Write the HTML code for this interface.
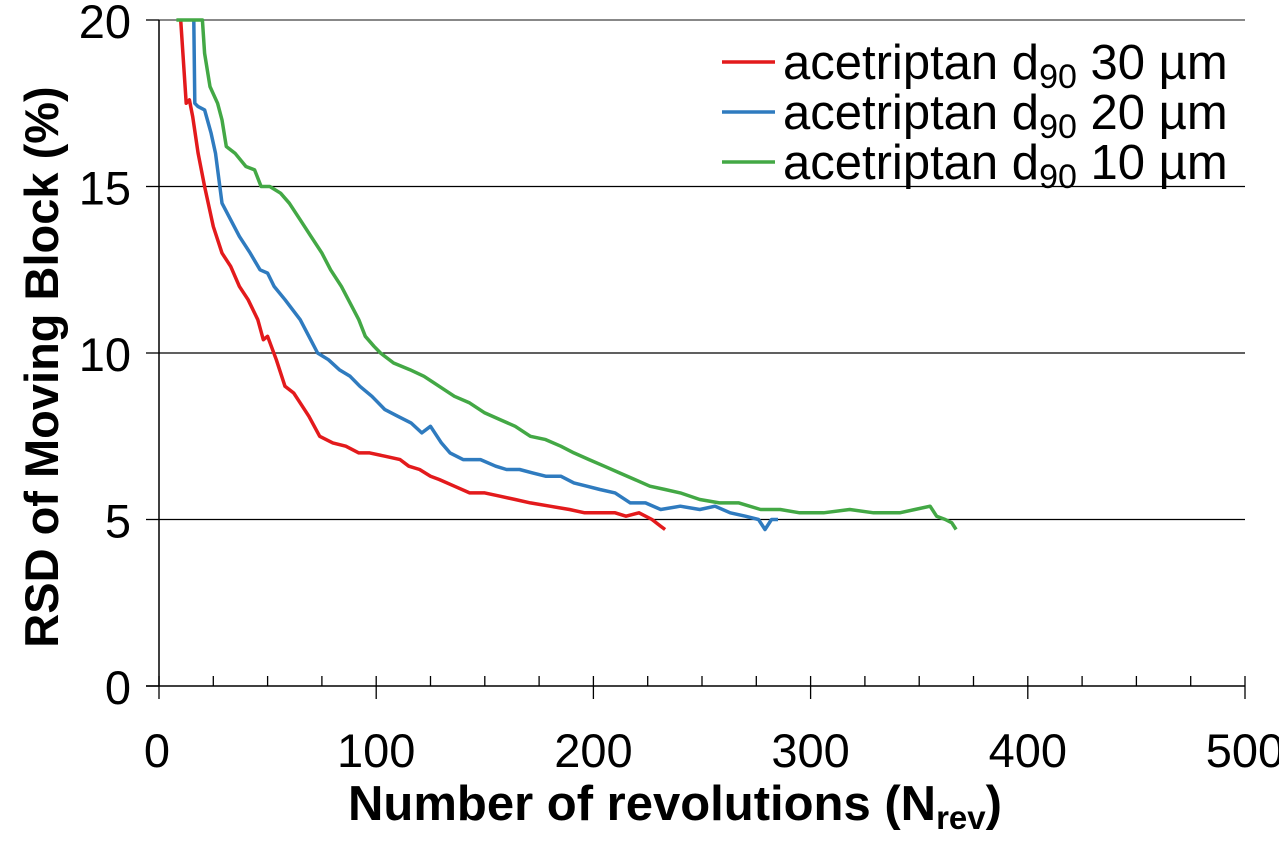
<!DOCTYPE html>
<html><head><meta charset="utf-8"><style>
body{margin:0;background:#fff;}
svg{display:block;font-family:"Liberation Sans",Arial,sans-serif;}
</style></head><body>
<svg id="chart" width="1279" height="843">
<g id="grid"></g>
<g id="axes"></g>
<g id="series"></g>
<text x="58" y="367" transform="rotate(-90 58 367)" text-anchor="middle" font-size="47" font-weight="bold">RSD of Moving Block (%)</text>
<text x="675" y="820" text-anchor="middle" font-size="49" font-weight="bold">Number of revolutions (N<tspan font-size="33" dy="9">rev</tspan><tspan dy="-9">)</tspan></text>
<g id="legend"></g>
</svg>
<script>
const xTicks=[0,100,200,300,400,500];
const yTicks=[0,5,10,15,20];
const seriesNames=["acetriptan d90 30 µm","acetriptan d90 20 µm","acetriptan d90 10 µm"];
const seriesSizes=["30","20","10"];
const seriesColors=["#e31a1c","#2f7bbf","#43a845"];
const redX=[10,12.5,14,15.5,18,21,25,29,33,37,41,45.5,48,50,54,58,62,65,69,74,80,86,92,97,104,111,115,120,125,129,136,143,150,157,164,171,180,189,196,203,210,215,221,227,231,233];
const redY=[20,17.5,17.6,17.1,16,15,13.8,13,12.6,12,11.6,11,10.4,10.5,9.8,9,8.8,8.5,8.1,7.5,7.3,7.2,7.0,7.0,6.9,6.8,6.6,6.5,6.3,6.2,6.0,5.8,5.8,5.7,5.6,5.5,5.4,5.3,5.2,5.2,5.2,5.1,5.2,5.0,4.8,4.7];
const blueX=[16,16.5,18,21,24,26,29,33,37,42,46.5,50,53,58,65,69,73,78,83,88,92.5,98,104,110,116,121,125,130,134,140,148,155,160,166,172,178,185,191,197,203,210,217,224,231,240,249,256,263,270,276,279,282,285];
const blueY=[20,17.5,17.4,17.3,16.6,16,14.5,14,13.5,13,12.5,12.4,12,11.6,11,10.5,10,9.8,9.5,9.3,9,8.7,8.3,8.1,7.9,7.6,7.8,7.3,7.0,6.8,6.8,6.6,6.5,6.5,6.4,6.3,6.3,6.1,6.0,5.9,5.8,5.5,5.5,5.3,5.4,5.3,5.4,5.2,5.1,5.0,4.7,5.0,5.0];
const greenX=[8,14,20,21,23.5,27,29,31,35,40,44,47,51,56,60,65,70,75,79,84,88,92,95,99,102,108,115.5,122,129,136,143,150,157,164,171,178,185,191,198,205,212,219,226,233,240,249,258,267,277,286,295,306,318,329,341,348,355,358,362,365,367];
const greenY=[20,20,20,19,18,17.5,17,16.2,16,15.6,15.5,15,15,14.8,14.5,14,13.5,13,12.5,12,11.5,11,10.5,10.2,10,9.7,9.5,9.3,9,8.7,8.5,8.2,8,7.8,7.5,7.4,7.2,7.0,6.8,6.6,6.4,6.2,6.0,5.9,5.8,5.6,5.5,5.5,5.3,5.3,5.2,5.2,5.3,5.2,5.2,5.3,5.4,5.1,5.0,4.9,4.7];
const allX=[redX,blueX,greenX], allY=[redY,blueY,greenY];
const NS="http://www.w3.org/2000/svg";
const X0=159,X1=1245,Y0=686,Y1=20;
const sx=v=>X0+(v-0)/500*(X1-X0);
const sy=v=>Y0-(v-0)/20*(Y0-Y1);
function mk(tag,attrs,parent){const e=document.createElementNS(NS,tag);for(const k in attrs)e.setAttribute(k,attrs[k]);parent.appendChild(e);return e;}
const grid=document.getElementById('grid'),axes=document.getElementById('axes'),ser=document.getElementById('series'),leg=document.getElementById('legend');
yTicks.forEach(t=>{
 if(t>0){const l=mk('line',{x1:X0,x2:X1,y1:sy(t),y2:sy(t),stroke:t==20?'#888':'#000','stroke-width':t==20?2:1.3},grid);
 
 }
 const tk=mk('line',{x1:X0-13,x2:X0,y1:sy(t),y2:sy(t),stroke:'#000','stroke-width':1.3},axes);
 
 
 const tx=mk('text',{x:131,y:sy(t)+18,'text-anchor':'end','font-size':47},axes);
 tx.textContent=t;
 
 
});
for(let v=0;v<=500;v+=25){
 const major=v%100==0;
 const tk=mk('line',{x1:sx(v),x2:sx(v),y1:Y0-10,y2:major?Y0+13:Y0,stroke:'#000','stroke-width':1.3},axes);
 
 
}
xTicks.forEach(t=>{
 const tx=mk('text',{x:sx(t)+(t==0?-2:0),y:767,'text-anchor':'middle','font-size':47},axes);
 tx.textContent=t;
 
 
});
const ax=mk('line',{x1:X0,x2:X0,y1:Y1,y2:Y0,stroke:'#000','stroke-width':1.5},axes);


const bx=mk('line',{x1:X0-13,x2:X1,y1:Y0,y2:Y0,stroke:'#000','stroke-width':1.5},axes);


allX.forEach((xs,i)=>{
 const d=xs.map((x,j)=>(j?'L':'M')+sx(x).toFixed(1)+','+sy(allY[i][j]).toFixed(1)).join('');
 const p=mk('path',{d:d,fill:'none',stroke:seriesColors[i],'stroke-width':3.5,'stroke-linejoin':'round'},ser);
 
 
});
seriesNames.forEach((n,i)=>{
 const y=62+i*50;
 const l=mk('line',{x1:722,x2:775,y1:y,y2:y,stroke:seriesColors[i],'stroke-width':3.5},leg);
 
 
 const t=mk('text',{x:783,y:y+17,'font-size':49},leg);
 t.innerHTML='acetriptan d<tspan font-size="34" dy="9">90</tspan><tspan dy="-9"> '+seriesSizes[i]+' µm</tspan>';
 
 
});
</script>
</body></html>
